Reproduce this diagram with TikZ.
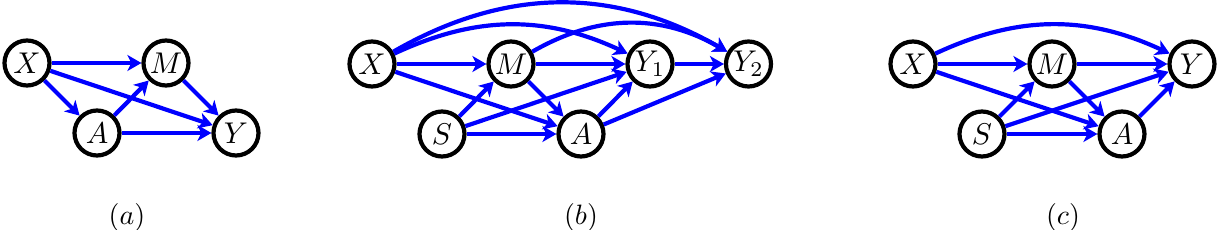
\documentclass[tikz,border=0pt]{standalone}
\usepackage{graphicx}
\usetikzlibrary{arrows.meta}
\newcommand{\nodetxt}[1]{\scalebox{3.0}{$#1$}}
\newcommand{\captxt}[1]{\scalebox{2.8}{$#1$}}
\begin{document}
\begin{tikzpicture}[x=1pt,y=1pt,
  var/.style={circle,draw=black,line width=4.2pt,minimum size=45pt,inner sep=0pt},
  subcap/.style={inner sep=0pt},
  arr/.style={draw={rgb,255:red,0;green,0;blue,255},line width=4.2pt,-{Stealth[length=14pt,width=16pt,inset=4pt]}}]
\useasboundingbox (0,0) rectangle (1219,230);
% (a)
\node[var] (aX) at (27,167) {\nodetxt{X}};
\node[var] (aM) at (166,167) {\nodetxt{M}};
\node[var] (aA) at (97,97) {\nodetxt{A}};
\node[var] (aY) at (236,97) {\nodetxt{Y}};
\draw[arr] (aX) -- (aM);
\draw[arr] (aX) -- (aA);
\draw[arr] (aX) -- (aY);
\draw[arr] (aA) -- (aM);
\draw[arr] (aA) -- (aY);
\draw[arr] (aM) -- (aY);
\node[subcap] (la) at (127,12.5) {\captxt{(a)}};
% (b)
\node[var] (bX) at (372,166) {\nodetxt{X}};
\node[var] (bM) at (511,166) {\nodetxt{M}};
\node[var] (bY1) at (650,166) {\nodetxt{Y_1}};
\node[var] (bY2) at (748.5,166) {\nodetxt{Y_2}};
\node[var] (bS) at (442,96) {\nodetxt{S}};
\node[var] (bA) at (581,96) {\nodetxt{A}};
\draw[arr] (bX) -- (bM);
\draw[arr] (bX) -- (bA);
\draw[arr] (bX) to[bend left=25] (bY1);
\draw[arr] (bX) to[bend left=30] (bY2);
\draw[arr] (bM) to[bend left=30] (bY2);
\draw[arr] (bM) -- (bY1);
\draw[arr] (bM) -- (bA);
\draw[arr] (bS) -- (bM);
\draw[arr] (bS) -- (bY1);
\draw[arr] (bS) -- (bA);
\draw[arr] (bA) -- (bY1);
\draw[arr] (bA) -- (bY2);
\draw[arr] (bY1) -- (bY2);
\node[subcap] (lb) at (581,12.5) {\captxt{(b)}};
% (c)
\node[var] (cX) at (913,166) {\nodetxt{X}};
\node[var] (cM) at (1052,166) {\nodetxt{M}};
\node[var] (cY) at (1192,166) {\nodetxt{Y}};
\node[var] (cS) at (982,96) {\nodetxt{S}};
\node[var] (cA) at (1122,96) {\nodetxt{A}};
\draw[arr] (cX) -- (cM);
\draw[arr] (cX) -- (cA);
\draw[arr] (cX) to[bend left=25] (cY);
\draw[arr] (cM) -- (cY);
\draw[arr] (cM) -- (cA);
\draw[arr] (cS) -- (cM);
\draw[arr] (cS) -- (cY);
\draw[arr] (cS) -- (cA);
\draw[arr] (cA) -- (cY);
\node[subcap] (lc) at (1063,12.5) {\captxt{(c)}};
\end{tikzpicture}
\end{document}
